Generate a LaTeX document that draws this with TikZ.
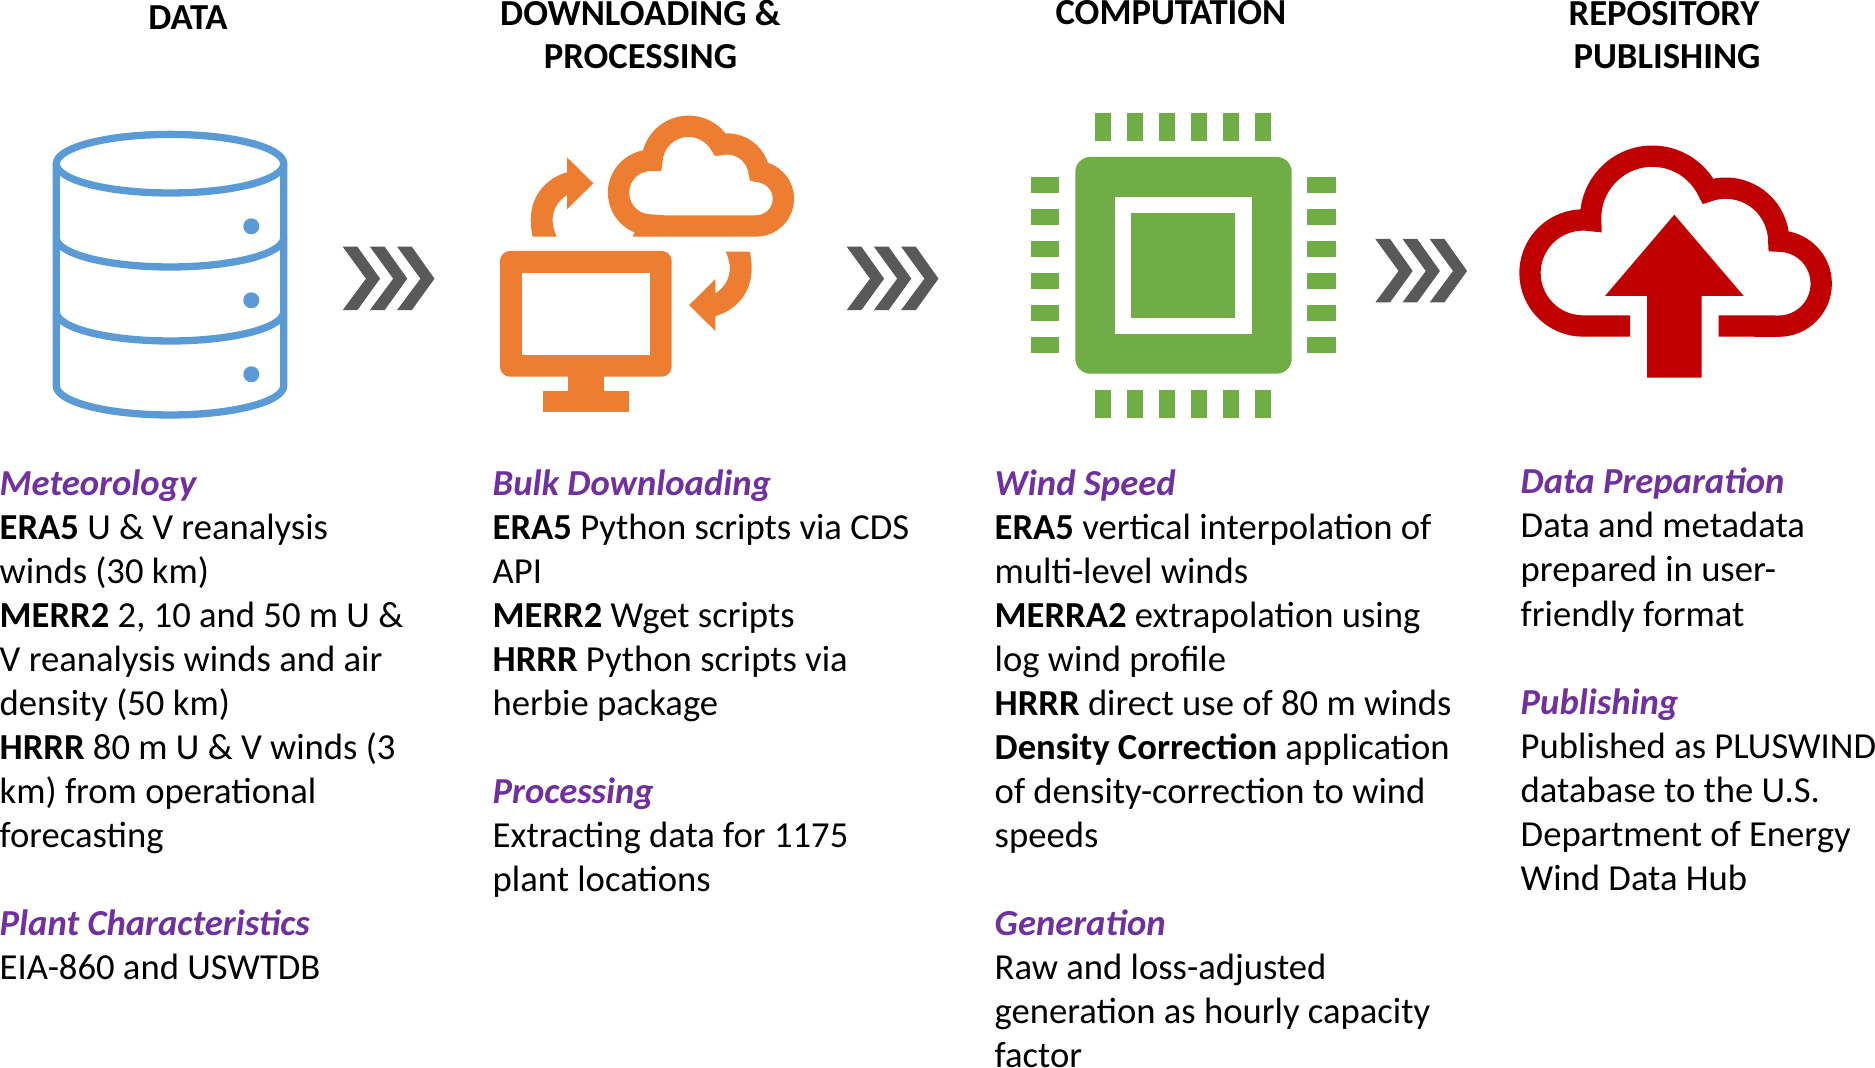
\documentclass[tikz,border=0pt]{standalone}
\usepackage{fontspec}
\setmainfont{Carlito}
\usetikzlibrary{positioning}
\definecolor{dbblue}{HTML}{5B9BD5}
\definecolor{cloudorange}{HTML}{ED7D31}
\definecolor{chipgreen}{HTML}{70AD47}
\definecolor{uploadred}{HTML}{C00000}
\definecolor{chevrongray}{HTML}{595959}
\definecolor{headpurple}{HTML}{7030A0}
\newcommand{\secthead}[1]{{\color{headpurple}\textbf{\textit{#1}}}}
\newcommand{\chevrons}[2]{%
  \foreach \k in {0,1,2}
    \fill[chevrongray] ({#1+27.2*\k},{#2-32}) -- ++(14.7,0) -- ++(22.7,32) -- ++(-22.7,31.4) -- ++(-14.7,0) -- ++(23.3,-31.4) -- cycle;
}
\begin{document}
\begin{tikzpicture}[
    x=0.01cm, y=-0.01cm,
    header/.style={font=\fontsize{10.42}{12.4}\selectfont\bfseries, align=center, inner sep=0pt, anchor=base},
    body/.style={font=\fontsize{10.42}{12.52}\selectfont, align=left, inner sep=0pt, anchor=north west},
    dbline/.style={draw=dbblue, line width=0.73mm},
    thickline/.style={line width=2.13mm, miter limit=10},
]
\useasboundingbox (0,0) rectangle (1875,1068);

% headers
\node[header] (hdata) at (188,30) {DATA};
\node[header] (hdown) at (640.5,69) {DOWNLOADING \&\\PROCESSING};
\node[header] (hcomp) at (1171,25) {COMPUTATION};
\node[header] (hrepo) at (1667,69) {REPOSITORY\hspace*{1.7pt}\\PUBLISHING};

% database
\draw[dbline] (170,163.7) ellipse [x radius=113.7, y radius=29.3];
\draw[dbline] (56.3,163.7) -- (56.3,385.7) arc[start angle=180, end angle=0, x radius=113.7, y radius=29.3] -- (283.7,163.7);
\foreach \y in {237.7,311.7}
  \draw[dbline] (56.3,\y) arc[start angle=180, end angle=0, x radius=113.7, y radius=29.3];
\foreach \y in {226.3,300.3,374.3}
  \fill[dbblue] (251.3,\y) circle [radius=8];

\chevrons{342.7}{278.7}

% monitor and cloud
\fill[cloudorange, rounded corners=1mm] (500,251) rectangle (671.7,376.7);
\fill[white] (521.7,272.7) rectangle (650.3,355.3);
\fill[cloudorange] (568.3,370) rectangle (604,391);
\fill[cloudorange] (543,391) rectangle (629,412.3);
\draw[cloudorange, thickline] (650.3,226) -- (756.2,226) arc[start angle=90, end angle=-84, radius=27.2]
  arc[start angle=-8, end angle=-102, radius=32.3]
  arc[start angle=-30, end angle=-176, radius=36.7]
  arc[start angle=-88, end angle=-270, radius=32.3] -- cycle;
\fill[cloudorange] (532.7,236.7) .. controls (525,205) and (540,180) .. (567,172.3) -- (567,157.3) -- (593.3,183.3) -- (567,209.3) -- (567,195) .. controls (552,205) and (549,220) .. (556.7,236.7) -- cycle;
\fill[cloudorange, rotate around={180:(641.2,244.2)}] (532.7,236.7) .. controls (525,205) and (540,180) .. (567,172.3) -- (567,157.3) -- (593.3,183.3) -- (567,209.3) -- (567,195) .. controls (552,205) and (549,220) .. (556.7,236.7) -- cycle;

\chevrons{846.7}{278.7}

% chip
\fill[chipgreen, rounded corners=1.5mm] (1075.3,157) rectangle (1291.7,373.7);
\fill[white] (1115,197) rectangle (1251.7,333.7);
\fill[chipgreen] (1131,213) rectangle (1235.3,317.7);
\foreach \k in {0,...,5} {
  \fill[chipgreen] ({1095+32*\k},113) rectangle ++(16.3,28);
  \fill[chipgreen] ({1095+32*\k},389.7) rectangle ++(16.3,28.3);
  \fill[chipgreen] (1031,{177+32*\k}) rectangle ++(28.3,16.3);
  \fill[chipgreen] (1307.3,{177+32*\k}) rectangle ++(28.4,16.3);
}

\chevrons{1375.3}{271}

% upload cloud
\draw[uploadred, thickline] (1630,326) -- (1583,326) arc[start angle=90, end angle=278.4, radius=53]
  arc[start angle=177.5, end angle=334.4, radius=61.7]
  arc[start angle=250.5, end angle=360, radius=53]
  arc[start angle=-90, end angle=90, radius=42.5] -- (1718.7,326);
\fill[uploadred] (1674.3,214.7) -- (1743.7,296) -- (1701.7,296) -- (1701.7,377.7) -- (1647,377.7) -- (1647,296) -- (1605,296) -- cycle;

% text columns
\node[body] (coldata) at (-1,468.7) {\secthead{Meteorology}\\
\textbf{ERA5} U \& V reanalysis\\
winds (30 km)\\
\textbf{MERR2} 2, 10 and 50 m U \&\\
V reanalysis winds and air\\
density (50 km)\\
\textbf{HRRR} 80 m U \& V winds (3\\
km) from operational\\
forecasting\\[12.52pt]
\secthead{Plant Characteristics}\\
EIA-860 and USWTDB};

\node[body] (coldown) at (492,468.7) {\secthead{Bulk Downloading}\\
\textbf{ERA5} Python scripts via CDS\\
API\\
\textbf{MERR2} Wget scripts\\
\textbf{HRRR} Python scripts via\\
herbie package\\[12.52pt]
\secthead{Processing}\\
Extracting data for 1175\\
plant locations};

\node[body] (colcomp) at (994,468.7) {\secthead{Wind Speed}\\
\textbf{ERA5} vertical interpolation of\\
multi-level winds\\
\textbf{MERRA2} extrapolation using\\
log wind profile\\
\textbf{HRRR} direct use of 80 m winds\\
\textbf{Density Correction} application\\
of density-correction to wind\\
speeds\\[12.52pt]
\secthead{Generation}\\
Raw and loss-adjusted\\
generation as hourly capacity\\
factor};

\node[body] (colrepo) at (1520,467.5) {\secthead{Data Preparation}\\
Data and metadata\\
prepared in user-\\
friendly format\\[12.52pt]
\secthead{Publishing}\\
Published as PLUSWIND\\
database to the U.S.\\
Department of Energy\\
Wind Data Hub};
\end{tikzpicture}
\end{document}
